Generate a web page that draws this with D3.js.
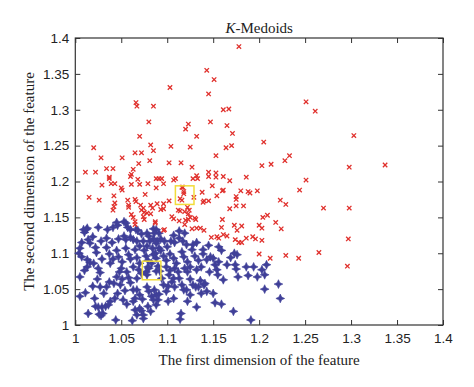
<!DOCTYPE html>
<html>
<head>
<meta charset="utf-8">
<script src="https://cdn.jsdelivr.net/npm/d3@7"></script>
<style>
  body { margin: 0; background: #fff; }
  svg { display: block; font-family: "Liberation Serif", "DejaVu Serif", serif; }
  .axis text { font-size: 13.5px; fill: #222; }
  .axis line { stroke: #333; }
  .axis path { display: none; }
</style>
</head>
<body>
<div class="chartBox"></div>
<script>
// cluster 1 (red crosses)
var redPoints = [
  [1.178,1.388],[1.143,1.355],[1.151,1.342],[1.103,1.331],[1.145,1.322],[1.066,1.310],[1.067,1.305],
  [1.085,1.305],[1.161,1.300],[1.167,1.301],[1.251,1.311],[1.261,1.298],[1.080,1.283],[1.147,1.283],
  [1.165,1.278],[1.123,1.280],[1.120,1.273],[1.171,1.267],[1.132,1.263],[1.070,1.263],[1.303,1.264],
  [1.020,1.247],[1.082,1.251],[1.085,1.243],[1.104,1.249],[1.125,1.248],[1.164,1.247],[1.170,1.250],
  [1.205,1.255],[1.028,1.233],[1.051,1.233],[1.065,1.240],[1.072,1.240],[1.153,1.236],[1.233,1.236],
  [1.228,1.229],[1.081,1.229],[1.069,1.225],[1.102,1.226],[1.115,1.226],[1.127,1.220],[1.203,1.222],
  [1.213,1.224],[1.298,1.220],[1.337,1.223],[1.011,1.213],[1.022,1.213],[1.034,1.218],[1.041,1.218],
  [1.037,1.206],[1.037,1.204],[1.063,1.217],[1.061,1.210],[1.060,1.207],[1.068,1.203],[1.079,1.197],
  [1.088,1.204],[1.091,1.204],[1.094,1.204],[1.107,1.202],[1.109,1.204],[1.132,1.208],[1.133,1.204],
  [1.128,1.204],[1.145,1.213],[1.145,1.207],[1.153,1.212],[1.153,1.206],[1.161,1.207],[1.168,1.201],
  [1.186,1.206],[1.251,1.202],[1.029,1.195],[1.039,1.197],[1.043,1.197],[1.050,1.191],[1.051,1.188],
  [1.061,1.196],[1.070,1.196],[1.076,1.182],[1.088,1.191],[1.096,1.197],[1.117,1.192],[1.118,1.186],
  [1.138,1.185],[1.149,1.194],[1.160,1.187],[1.161,1.188],[1.180,1.187],[1.188,1.186],[1.190,1.184],
  [1.198,1.187],[1.244,1.188],[1.015,1.178],[1.026,1.174],[1.042,1.180],[1.057,1.174],[1.058,1.167],
  [1.065,1.175],[1.066,1.172],[1.071,1.167],[1.074,1.163],[1.072,1.160],[1.082,1.167],[1.089,1.169],
  [1.096,1.169],[1.102,1.173],[1.116,1.174],[1.129,1.178],[1.139,1.171],[1.140,1.173],[1.145,1.173],
  [1.154,1.180],[1.175,1.179],[1.175,1.175],[1.175,1.166],[1.183,1.166],[1.168,1.162],[1.223,1.174],
  [1.229,1.168],[1.270,1.163],[1.298,1.163],[1.043,1.170],[1.042,1.165],[1.041,1.160],[1.058,1.164],
  [1.061,1.154],[1.063,1.150],[1.065,1.144],[1.065,1.140],[1.075,1.157],[1.078,1.156],[1.082,1.155],
  [1.074,1.151],[1.075,1.147],[1.087,1.144],[1.087,1.142],[1.096,1.162],[1.084,1.163],[1.093,1.161],
  [1.105,1.151],[1.107,1.148],[1.112,1.160],[1.114,1.159],[1.113,1.145],[1.119,1.158],[1.120,1.146],
  [1.119,1.140],[1.122,1.164],[1.124,1.160],[1.123,1.155],[1.125,1.150],[1.123,1.147],[1.127,1.134],
  [1.130,1.149],[1.131,1.147],[1.132,1.135],[1.136,1.135],[1.140,1.132],[1.160,1.147],[1.159,1.136],
  [1.148,1.122],[1.154,1.123],[1.156,1.121],[1.161,1.126],[1.165,1.124],[1.173,1.139],[1.176,1.132],
  [1.181,1.138],[1.174,1.119],[1.178,1.115],[1.181,1.115],[1.186,1.121],[1.193,1.123],[1.196,1.120],
  [1.200,1.139],[1.203,1.135],[1.204,1.150],[1.209,1.153],[1.203,1.118],[1.218,1.143],[1.224,1.134],
  [1.200,1.099],[1.212,1.093],[1.229,1.097],[1.243,1.093],[1.265,1.101],[1.297,1.120],[1.296,1.082],
  [1.096,1.132],[1.097,1.133],[1.114,1.176],[1.118,1.183],[1.116,1.192]
];

// cluster 2 (blue stars)
var bluePoints = [
  [1.009,1.133],[1.012,1.133],[1.013,1.135],[1.010,1.129],[1.025,1.136],[1.035,1.133],[1.041,1.136],
  [1.045,1.143],[1.046,1.139],[1.053,1.144],[1.055,1.142],[1.057,1.136],[1.060,1.133],[1.066,1.133],
  [1.068,1.132],[1.072,1.127],[1.085,1.134],[1.088,1.133],[1.078,1.128],[1.080,1.124],[1.086,1.128],
  [1.091,1.128],[1.107,1.125],[1.113,1.131],[1.119,1.128],[1.014,1.119],[1.016,1.114],[1.019,1.123],
  [1.022,1.108],[1.028,1.117],[1.034,1.121],[1.040,1.115],[1.047,1.120],[1.053,1.124],[1.055,1.119],
  [1.060,1.122],[1.063,1.119],[1.067,1.117],[1.074,1.117],[1.081,1.117],[1.085,1.120],[1.089,1.117],
  [1.093,1.120],[1.097,1.117],[1.100,1.109],[1.104,1.117],[1.108,1.115],[1.113,1.121],[1.117,1.117],
  [1.121,1.112],[1.128,1.112],[1.132,1.115],[1.139,1.105],[1.145,1.111],[1.156,1.109],[1.159,1.104],
  [1.169,1.094],[1.173,1.100],[1.176,1.098],[1.004,1.100],[1.007,1.095],[1.013,1.091],[1.016,1.087],
  [1.023,1.101],[1.029,1.092],[1.034,1.108],[1.037,1.099],[1.041,1.092],[1.045,1.104],[1.047,1.095],
  [1.051,1.088],[1.055,1.107],[1.058,1.098],[1.060,1.092],[1.065,1.105],[1.067,1.094],[1.070,1.086],
  [1.075,1.104],[1.077,1.096],[1.079,1.090],[1.084,1.107],[1.087,1.100],[1.088,1.093],[1.093,1.104],
  [1.096,1.096],[1.099,1.090],[1.103,1.099],[1.107,1.093],[1.110,1.086],[1.116,1.102],[1.118,1.095],
  [1.122,1.088],[1.127,1.105],[1.130,1.096],[1.134,1.090],[1.139,1.099],[1.143,1.091],[1.147,1.095],
  [1.152,1.084],[1.154,1.077],[1.174,1.084],[1.175,1.078],[1.177,1.067],[1.186,1.081],[1.188,1.069],
  [1.194,1.081],[1.198,1.067],[1.203,1.077],[1.206,1.070],[1.208,1.084],[1.206,1.050],[1.221,1.057],
  [1.223,1.037],[1.191,1.007],[1.172,1.019],[1.005,1.067],[1.010,1.076],[1.013,1.081],[1.005,1.040],
  [1.011,1.045],[1.014,1.016],[1.019,1.054],[1.024,1.064],[1.027,1.073],[1.022,1.026],[1.025,1.025],
  [1.029,1.025],[1.026,1.015],[1.028,1.013],[1.030,1.016],[1.031,1.044],[1.034,1.053],[1.037,1.060],
  [1.033,1.026],[1.036,1.028],[1.038,1.033],[1.042,1.058],[1.045,1.067],[1.048,1.074],[1.044,1.007],
  [1.049,1.056],[1.051,1.064],[1.054,1.048],[1.058,1.066],[1.060,1.059],[1.063,1.049],[1.062,1.006],
  [1.065,1.021],[1.067,1.014],[1.070,1.023],[1.072,1.020],[1.074,1.014],[1.074,1.009],[1.067,1.049],
  [1.070,1.042],[1.073,1.036],[1.078,1.053],[1.080,1.047],[1.083,1.040],[1.086,1.049],[1.088,1.042],
  [1.090,1.035],[1.094,1.065],[1.096,1.056],[1.099,1.047],[1.102,1.070],[1.105,1.060],[1.108,1.053],
  [1.113,1.065],[1.116,1.056],[1.118,1.049],[1.122,1.074],[1.125,1.064],[1.128,1.056],[1.131,1.053],
  [1.134,1.053],[1.137,1.044],[1.140,1.056],[1.143,1.047],[1.150,1.044],[1.152,1.031],[1.132,1.025],
  [1.122,1.033],[1.115,1.016],[1.114,1.008],[1.159,1.029],[1.085,1.035],[1.088,1.028],[1.091,1.043],
  [1.078,1.070],[1.080,1.079],[1.083,1.086],[1.088,1.075],[1.090,1.082],[1.092,1.075],[1.099,1.081],
  [1.103,1.076],[1.108,1.079],[1.112,1.074],[1.119,1.079],[1.125,1.081],[1.132,1.077],[1.137,1.081],
  [1.146,1.074],[1.020,1.086],[1.025,1.079],[1.007,1.115],[1.005,1.107],[1.038,1.086],[1.050,1.079],
  [1.056,1.074],[1.063,1.081],[1.069,1.077],[1.027,1.053],[1.021,1.037],[1.043,1.037],[1.046,1.044],
  [1.052,1.035],[1.056,1.029],[1.063,1.033],[1.065,1.037],[1.079,1.026],[1.082,1.019],[1.101,1.033],
  [1.107,1.037],[1.121,1.049],[1.125,1.042],[1.136,1.062],[1.141,1.058],[1.155,1.070],[1.161,1.063],
  [1.150,1.093],[1.156,1.088],[1.165,1.084],[1.088,1.114],[1.091,1.107],[1.078,1.110],[1.070,1.110],
  [1.085,1.098],[1.079,1.081],[1.077,1.074],[1.072,1.072],[1.067,1.065],[1.101,1.054],[1.107,1.065]
];

// the two medoids, drawn as yellow squares
var medoids = [[1.119,1.181],[1.083,1.076]];

var xTickValues = [1,1.05,1.1,1.15,1.2,1.25,1.3,1.35,1.4];
var yTickValues = [1,1.05,1.1,1.15,1.2,1.25,1.3,1.35,1.4];

var Chart = (function(){
  var width = 474, height = 387;
  var left = 75.3, right = 443, top = 38, bottom = 325;
  var redColor = "#e0302c", blueColor = "#3f3f98", yellow = "#f2dc3a";

  var x = d3.scaleLinear().domain([1,1.4]).range([left,right]);
  var y = d3.scaleLinear().domain([1,1.4]).range([bottom,top]);

  // 4 pointed star, looks like the thick matlab '*' marker
  var starPath = "M0,-4.4L1.4,-1.4L4.4,0L1.4,1.4L0,4.4L-1.4,1.4L-4.4,0L-1.4,-1.4Z";

  var draw = function(){
    var svg = d3.select(".chartBox").append("svg")
      .attr("width", width)
      .attr("height", height);

    // axes, ticks point inward on all four sides
    svg.append("g").attr("class","axis")
      .attr("transform","translate(0,"+bottom+")")
      .call(d3.axisBottom(x).tickValues(xTickValues).tickFormat(String).tickSize(-5).tickPadding(8));
    svg.append("g").attr("class","axis")
      .attr("transform","translate(0,"+top+")")
      .call(d3.axisTop(x).tickValues(xTickValues).tickFormat("").tickSize(-5));
    svg.append("g").attr("class","axis")
      .attr("transform","translate("+left+",0)")
      .call(d3.axisLeft(y).tickValues(yTickValues).tickFormat(String).tickSize(-5).tickPadding(6));
    svg.append("g").attr("class","axis")
      .attr("transform","translate("+right+",0)")
      .call(d3.axisRight(y).tickValues(yTickValues).tickFormat("").tickSize(-5));

    svg.append("rect")
      .attr("x", left).attr("y", top)
      .attr("width", right-left).attr("height", bottom-top)
      .attr("fill","none").attr("stroke","#333").attr("stroke-width",1.2);

    // blue cluster
    svg.append("g").selectAll("path")
      .data(bluePoints)
      .enter().append("path")
      .attr("d", starPath)
      .attr("transform", function(d){ return "translate("+x(d[0])+","+y(d[1])+")"; })
      .attr("fill", blueColor)
      .attr("stroke", blueColor)
      .attr("stroke-width", 0.6);

    // red cluster
    var cross = svg.append("g").selectAll("g")
      .data(redPoints)
      .enter().append("g")
      .attr("transform", function(d){ return "translate("+x(d[0])+","+y(d[1])+")"; })
      .attr("stroke", redColor)
      .attr("stroke-width", 1.3);
    cross.append("line").attr("x1",-2.2).attr("y1",-2.2).attr("x2",2.2).attr("y2",2.2);
    cross.append("line").attr("x1",-2.2).attr("y1",2.2).attr("x2",2.2).attr("y2",-2.2);

    // medoids
    svg.append("g").selectAll("rect")
      .data(medoids)
      .enter().append("rect")
      .attr("x", function(d){ return x(d[0])-9.3; })
      .attr("y", function(d){ return y(d[1])-9.3; })
      .attr("width", 18.6).attr("height", 18.6)
      .attr("fill","none")
      .attr("stroke", yellow)
      .attr("stroke-width", 1.5);

    // title and labels
    var title = svg.append("text")
      .attr("x", (left+right)/2).attr("y", 33)
      .attr("text-anchor","middle")
      .style("font-size","15px").attr("fill","#222");
    title.append("tspan").style("font-style","italic").text("K");
    title.append("tspan").text("-Medoids");

    svg.append("text")
      .attr("x", (left+right)/2).attr("y", 365)
      .attr("text-anchor","middle")
      .style("font-size","15px").attr("fill","#222")
      .text("The first dimension of the feature");

    svg.append("text")
      .attr("transform","translate(34,"+((top+bottom)/2)+") rotate(-90)")
      .attr("text-anchor","middle")
      .style("font-size","15px").attr("fill","#222")
      .text("The second dimension of the feature");
  };

  return { init: draw };
})();

Chart.init();
</script>
</body>
</html>
